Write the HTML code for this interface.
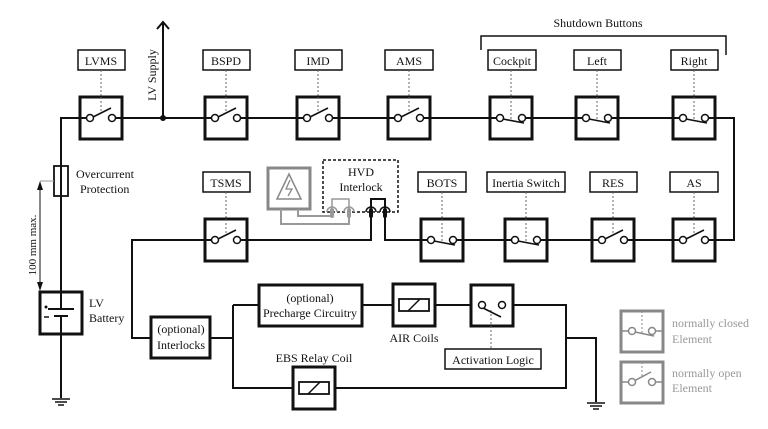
<!DOCTYPE html>
<html><head><meta charset="utf-8"><style>
html,body{margin:0;padding:0;background:#fff;}
svg{display:block;font-family:"Liberation Serif","Times New Roman",Times,serif;}
svg text{font-family:"Liberation Serif","Times New Roman",Times,serif;font-size:12px;fill:#111;}
</style></head><body>
<svg width="768" height="429" viewBox="0 0 768 429" xmlns="http://www.w3.org/2000/svg" font-family="Liberation Serif, Times New Roman, serif" font-size="12">
<defs>
<g id="box"><rect x="-21" y="-21" width="42" height="42" fill="#fff" stroke="#111" stroke-width="3"/></g>
<g id="sopen">
 <use href="#box"/>
 <line x1="-21" y1="0" x2="-14" y2="0" stroke="#111" stroke-width="2"/>
 <line x1="14" y1="0" x2="21" y2="0" stroke="#111" stroke-width="2"/>
 <line x1="0" y1="-21" x2="0" y2="-6" stroke="#666" stroke-width="1" stroke-dasharray="2,2"/>
 <line x1="-8" y1="-1" x2="10" y2="-10" stroke="#111" stroke-width="1.6"/>
 <circle cx="-11" cy="0" r="3.5" fill="#fff" stroke="#111" stroke-width="1.5"/>
 <circle cx="11" cy="0" r="3.5" fill="#fff" stroke="#111" stroke-width="1.5"/>
</g>
<g id="sclosed">
 <use href="#box"/>
 <line x1="-21" y1="0" x2="-14" y2="0" stroke="#111" stroke-width="2"/>
 <line x1="14" y1="0" x2="21" y2="0" stroke="#111" stroke-width="2"/>
 <line x1="0" y1="-21" x2="0" y2="3" stroke="#666" stroke-width="1" stroke-dasharray="2,2"/>
 <line x1="-8" y1="1" x2="13" y2="5" stroke="#111" stroke-width="1.6"/>
 <circle cx="-11" cy="0" r="3.5" fill="#fff" stroke="#111" stroke-width="1.5"/>
 <circle cx="11" cy="0" r="3.5" fill="#fff" stroke="#111" stroke-width="1.5"/>
</g>
<g id="coil">
 <use href="#box"/>
 <rect x="-15" y="-6" width="30" height="12" fill="#fff" stroke="#111" stroke-width="1.8"/>
 <line x1="-6" y1="6" x2="6" y2="-6" stroke="#111" stroke-width="1.5"/>
</g>
</defs>

<g stroke="#111" stroke-width="2" fill="none">
 <polyline points="61,398 61,118 734,118 734,240 385,240 385,212"/>
 <polyline points="371,212 371,240 132,240 132,338 233,338"/>
 <polyline points="233,305 233,388 566,388 566,305 233,305"/>
 <polyline points="566,338 596,338 596,402"/>
 <line x1="163" y1="118" x2="163" y2="22"/>
 <polyline points="157,29 163,22 169,29"/>
 <polyline points="371,212 371,199 385,199 385,212"/>
</g>
<circle cx="163" cy="118" r="3" fill="#111"/>
<text transform="translate(156,75) rotate(-90)" text-anchor="middle">LV Supply</text>

<g stroke="#111" stroke-width="1.5">
 <line x1="52" y1="399" x2="70" y2="399"/><line x1="55" y1="402" x2="67" y2="402"/><line x1="58" y1="405" x2="64" y2="405"/>
 <line x1="587" y1="403" x2="605" y2="403"/><line x1="590" y1="406" x2="602" y2="406"/><line x1="593" y1="409" x2="599" y2="409"/>
</g>

<rect x="54" y="166" width="14" height="30" fill="#fff" stroke="#111" stroke-width="1.8"/>
<line x1="61" y1="166" x2="61" y2="196" stroke="#111" stroke-width="2"/>
<text x="76" y="178">Overcurrent</text>
<text x="80" y="193">Protection</text>
<line x1="40" y1="181" x2="54" y2="181" stroke="#999" stroke-width="1"/>
<line x1="40" y1="183" x2="40" y2="290" stroke="#111" stroke-width="1"/>
<polygon points="37,190 40,181 43,190" fill="#111"/>
<polygon points="37,282 40,291 43,282" fill="#111"/>
<text transform="translate(36,245) rotate(-90)" text-anchor="middle" style="font-size:11px">100 mm max.</text>

<rect x="40" y="292" width="42" height="42" fill="#fff" stroke="#111" stroke-width="3"/>
<line x1="61" y1="292" x2="61" y2="309" stroke="#111" stroke-width="2"/>
<line x1="61" y1="316" x2="61" y2="334" stroke="#111" stroke-width="2"/>
<line x1="48" y1="309" x2="74" y2="309" stroke="#111" stroke-width="2"/>
<line x1="54" y1="316" x2="68" y2="316" stroke="#111" stroke-width="2"/>
<circle cx="46" cy="307" r="1.5" fill="#111"/>
<line x1="44" y1="317" x2="49" y2="317" stroke="#111" stroke-width="1.5"/>
<text x="89" y="307">LV</text>
<text x="89" y="322">Battery</text>

<g fill="#fff" stroke="#111" stroke-width="1.5">
 <rect x="78" y="50" width="47" height="20"/><rect x="203" y="50" width="47" height="20"/>
 <rect x="295" y="50" width="47" height="20"/><rect x="385" y="50" width="48" height="20"/>
 <rect x="488" y="50" width="48" height="20"/><rect x="574" y="50" width="47" height="20"/>
 <rect x="671" y="50" width="47" height="20"/>
 <rect x="203" y="172" width="47" height="20"/><rect x="418" y="172" width="48" height="20"/>
 <rect x="487" y="172" width="78" height="20"/><rect x="590" y="172" width="47" height="20"/>
 <rect x="670" y="172" width="48" height="20"/>
</g>
<g stroke="#666" stroke-width="1" stroke-dasharray="2,2">
 <line x1="101" y1="70" x2="101" y2="97"/><line x1="226" y1="70" x2="226" y2="97"/>
 <line x1="318" y1="70" x2="318" y2="97"/><line x1="409" y1="70" x2="409" y2="97"/>
 <line x1="511" y1="70" x2="511" y2="97"/><line x1="597" y1="70" x2="597" y2="97"/>
 <line x1="694" y1="70" x2="694" y2="97"/>
 <line x1="226" y1="192" x2="226" y2="219"/><line x1="442" y1="192" x2="442" y2="219"/>
 <line x1="526" y1="192" x2="526" y2="219"/><line x1="613" y1="192" x2="613" y2="219"/>
 <line x1="694" y1="192" x2="694" y2="219"/>
</g>
<g text-anchor="middle">
 <text x="101" y="65">LVMS</text><text x="226" y="65">BSPD</text><text x="318" y="65">IMD</text>
 <text x="409" y="65">AMS</text><text x="512" y="65">Cockpit</text><text x="597" y="65">Left</text>
 <text x="694" y="65">Right</text>
 <text x="226" y="187">TSMS</text><text x="442" y="187">BOTS</text><text x="526" y="187">Inertia Switch</text>
 <text x="613" y="187">RES</text><text x="694" y="187">AS</text>
 <text x="598" y="27">Shutdown Buttons</text>
</g>
<polyline points="481,50 481,36 726,36 726,55" fill="none" stroke="#111" stroke-width="1.5"/>

<use href="#sopen" x="101" y="118"/><use href="#sopen" x="226" y="118"/>
<use href="#sopen" x="318" y="118"/><use href="#sopen" x="409" y="118"/>
<use href="#sclosed" x="511" y="118"/><use href="#sclosed" x="597" y="118"/>
<use href="#sclosed" x="694" y="118"/>
<use href="#sopen" x="226" y="240"/><use href="#sclosed" x="442" y="240"/>
<use href="#sclosed" x="526" y="240"/><use href="#sopen" x="613" y="240"/>
<use href="#sopen" x="694" y="240"/>

<rect x="268" y="168" width="42" height="41" fill="#fff" stroke="#888" stroke-width="3"/>
<polygon points="289,174 277,199 301,199" fill="none" stroke="#888" stroke-width="1.5"/>
<polyline points="290,180 286,189 292,189 288,196" fill="none" stroke="#888" stroke-width="1.3"/>
<polyline points="281,209 281,224 349,224 349,212" fill="none" stroke="#999" stroke-width="2"/>
<polyline points="298,209 298,216 332,216 332,212" fill="none" stroke="#999" stroke-width="2"/>
<polyline points="332,208 332,199 349,199 349,208" fill="none" stroke="#999" stroke-width="1.5"/>
<rect x="323" y="160" width="75" height="52" fill="none" stroke="#111" stroke-width="1.5" stroke-dasharray="3,2"/>
<text x="361" y="176" text-anchor="middle">HVD</text>
<text x="361" y="191" text-anchor="middle">Interlock</text>
<g stroke-width="1.5">
 <path d="M327,212 a5,5 0 0 1 10,0" fill="none" stroke="#999"/><rect x="330" y="208" width="4" height="10" rx="2" fill="#999"/>
 <path d="M344,212 a5,5 0 0 1 10,0" fill="none" stroke="#999"/><rect x="347" y="208" width="4" height="10" rx="2" fill="#999"/>
 <path d="M366,212 a5,5 0 0 1 10,0" fill="none" stroke="#111"/><rect x="369" y="208" width="4" height="10" rx="2" fill="#111"/>
 <path d="M380,212 a5,5 0 0 1 10,0" fill="none" stroke="#111"/><rect x="383" y="208" width="4" height="10" rx="2" fill="#111"/>
</g>

<rect x="151" y="317" width="59" height="41" fill="#fff" stroke="#111" stroke-width="3"/>
<text x="181" y="333" text-anchor="middle">(optional)</text>
<text x="181" y="349" text-anchor="middle">Interlocks</text>
<rect x="259" y="285" width="103" height="41" fill="#fff" stroke="#111" stroke-width="3"/>
<text x="310" y="302" text-anchor="middle">(optional)</text>
<text x="310" y="317" text-anchor="middle">Precharge Circuitry</text>
<use href="#coil" x="414" y="305"/>
<text x="414" y="342" text-anchor="middle">AIR Coils</text>
<use href="#coil" x="314" y="388"/>
<text x="314" y="362" text-anchor="middle">EBS Relay Coil</text>
<rect x="471" y="285" width="42" height="41" fill="#fff" stroke="#111" stroke-width="3"/>
<line x1="491" y1="310" x2="491" y2="349" stroke="#666" stroke-width="1" stroke-dasharray="2,2"/>
<line x1="483" y1="308" x2="501" y2="317" stroke="#111" stroke-width="1.6"/>
<circle cx="482" cy="305" r="3.5" fill="#fff" stroke="#111" stroke-width="1.5"/>
<circle cx="502" cy="305" r="3.5" fill="#fff" stroke="#111" stroke-width="1.5"/>
<rect x="445" y="349" width="96" height="20" fill="#fff" stroke="#111" stroke-width="1.5"/>
<text x="493" y="364" text-anchor="middle">Activation Logic</text>

<g stroke="#888">
 <rect x="621" y="311" width="42" height="41" fill="#fff" stroke-width="3"/>
 <line x1="621" y1="331" x2="629" y2="331" stroke-width="1.5"/><line x1="655" y1="331" x2="663" y2="331" stroke-width="1.5"/>
 <line x1="642" y1="311" x2="642" y2="333" stroke-width="1" stroke-dasharray="2,2"/>
 <line x1="635" y1="332" x2="654" y2="336" stroke-width="1.5"/>
 <circle cx="632" cy="331" r="3.5" fill="#fff" stroke-width="1.5"/><circle cx="652" cy="331" r="3.5" fill="#fff" stroke-width="1.5"/>
 <rect x="621" y="362" width="42" height="41" fill="#fff" stroke-width="3"/>
 <line x1="621" y1="382" x2="629" y2="382" stroke-width="1.5"/><line x1="655" y1="382" x2="663" y2="382" stroke-width="1.5"/>
 <line x1="642" y1="362" x2="642" y2="377" stroke-width="1" stroke-dasharray="2,2"/>
 <line x1="634" y1="381" x2="651" y2="372" stroke-width="1.5"/>
 <circle cx="632" cy="382" r="3.5" fill="#fff" stroke-width="1.5"/><circle cx="652" cy="382" r="3.5" fill="#fff" stroke-width="1.5"/>
</g>
<text x="672" y="327" style="fill:#999">normally closed</text>
<text x="672" y="343" style="fill:#999">Element</text>
<text x="672" y="377" style="fill:#999">normally open</text>
<text x="672" y="392" style="fill:#999">Element</text>
</svg>
</body></html>
